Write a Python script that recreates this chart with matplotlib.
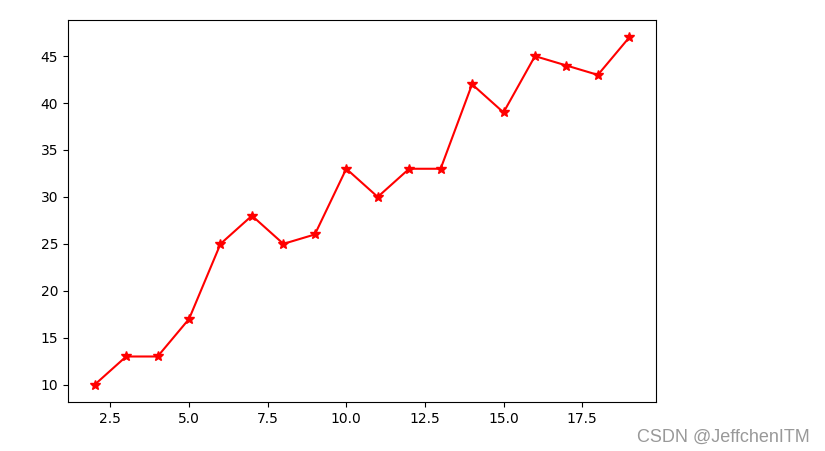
import matplotlib
matplotlib.use('Agg')
import matplotlib.pyplot as plt

x = [2, 3, 4, 5, 6, 7, 8, 9, 10, 11, 12, 13, 14, 15, 16, 17, 18, 19]
y = [10, 13, 13, 17, 25, 28, 25, 26, 33, 30, 33, 33, 42, 39, 45, 44, 43, 47]

fig = plt.figure(figsize=(8.25, 4.51), dpi=100)
ax = fig.add_axes([0.0824, 0.1086, 0.7128, 0.8471])
ax.plot(x, y, color='red', marker='*', markersize=7)
ax.tick_params(labelsize=10)

fig.text(0.982, 0.02, 'CSDN @JeffchenITM', ha='right', va='baseline',
         fontsize=13, color='#999999', family='Liberation Sans')

fig.savefig('out.png', dpi=100)
